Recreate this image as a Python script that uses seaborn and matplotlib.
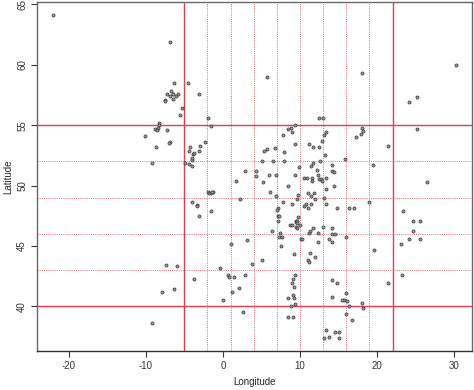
import matplotlib
matplotlib.use("Agg")
import matplotlib.pyplot as plt
import seaborn as sns
import pandas as pd

# station coordinates
lon = [-22.0, -6.9, -6.3, -4.5, -3.1, -7.3, -6.7, -5.8, -6.9, -6.5, -6.1, -6.5, -7.5, -7.5,
       -5.3, -5.6, -1.9, -1.6, -8.3, -8.3, -8.4, -8.8, -8.6, -7.3, -10.1, -8.7, -6.9, -7.0, -9.2,
       -4.9, -4.4, -4.0, -4.0, -4.0, -3.9, -3.8, -4.4, -4.3, -3.1, -3.0, -2.3,
       1.7, -1.9, -1.8, -1.6, -1.3, -1.4, -4.0, -3.4, -3.4, -3.1, -1.6, 1.0,
       -7.4, -6.0, -3.8, -0.4, 0.7, 0.8, 1.5, -7.9, -6.3, 1.2, 0.0, 2.1, -9.2,
       2.8, 3.1, 3.8, 5.1, 2.6, 2.2, 2.8, 4.3, 4.3,
       5.7, 18.0, 30.2, 24.1, 25.1, 25.1, 12.4, 13.0, 9.3, 8.8, 8.4, 8.9, 7.8, 13.3, 13.1,
       12.8, 12.4, 11.1, 11.7, 9.3, 6.7, 5.7, 5.3, 7.9, 13.2, 18.0, 18.1, 17.9, 17.2, 21.4,
       15.8, 19.4, 26.4,
       5.1, 6.5, 7.9, 12.6, 11.7, 14.2, 11.4, 9.8, 12.2, 14.2, 14.4, 6.0, 6.9, 9.3, 12.3,
       10.5, 10.9, 11.5, 11.5, 12.4, 12.7, 12.8, 13.3, 5.2, 8.4, 14.4, 13.3, 6.1, 11.8, 11.0,
       9.7, 6.9, 11.4, 9.6, 11.9,
       7.8, 8.9, 10.8, 11.4, 10.5, 11.0, 13.1, 13.3, 7.1, 7.0, 14.8, 16.3, 17.0, 19.0, 23.4,
       7.1, 7.3, 7.1, 9.5, 9.5, 9.6, 9.7, 9.6, 8.7, 8.9, 9.5, 9.6, 10.0, 6.3, 7.4, 7.3, 7.6,
       10.1, 10.2, 11.1, 11.3, 11.7, 12.3, 13.0, 14.2, 14.2, 14.5, 13.7, 14.1, 12.3, 15.9,
       7.5, 9.2, 11.3, 11.9, 11.0, 11.1, 19.6, 23.1, 24.1, 24.7, 24.6, 25.6, 25.6, 23.2, 21.4,
       9.3, 9.1, 8.9, 9.2, 8.5, 9.1, 9.2, 9.3, 8.8, 8.4, 9.1, 14.2, 14.8, 14.2, 15.9, 15.7,
       16.1, 15.4, 16.3, 15.9, 16.7, 18.0, 18.1, 13.3, 13.1, 13.7, 14.5, 15.0, 15.0]
lat = [64.1, 61.9, 58.5, 58.5, 57.6, 57.6, 57.8, 57.6, 57.4, 57.2, 57.4, 57.6, 57.1, 57.0,
       56.4, 55.8, 55.6, 54.9, 55.2, 55.0, 54.8, 54.7, 54.6, 54.6, 54.1, 53.2, 53.6, 53.5, 51.9,
       51.9, 51.8, 51.6, 52.1, 52.3, 52.6, 52.7, 52.9, 53.2, 52.9, 53.3, 53.6,
       50.4, 49.5, 49.4, 49.4, 49.5, 49.5, 48.6, 48.4, 48.3, 47.5, 47.9, 45.2,
       43.4, 43.3, 42.3, 43.2, 42.6, 42.4, 42.4, 41.2, 41.4, 41.2, 40.5, 41.5, 38.6,
       42.6, 45.5, 43.5, 43.8, 39.5, 48.9, 51.2, 51.2, 50.8,
       59.0, 59.3, 60.0, 56.9, 57.3, 54.7, 55.6, 55.6, 55.0, 54.8, 54.7, 54.4, 54.2, 54.4, 54.2,
       53.7, 53.2, 53.4, 53.2, 53.4, 53.1, 53.0, 52.9, 52.8, 52.5, 54.8, 54.5, 54.3, 54.0, 53.3,
       52.2, 51.7, 50.3,
       52.0, 52.0, 52.0, 52.0, 51.9, 51.7, 51.6, 51.5, 51.3, 51.2, 51.1, 50.9, 50.9, 50.9, 50.9,
       50.6, 50.6, 50.6, 50.4, 50.5, 50.5, 50.4, 50.6, 50.3, 50.0, 50.0, 49.7, 49.5, 49.4, 49.4,
       49.2, 49.1, 49.1, 48.9, 48.9,
       48.6, 48.5, 48.5, 48.5, 48.3, 48.1, 49.0, 48.5, 48.1, 48.0, 48.1, 48.1, 48.1, 48.6, 47.9,
       47.5, 47.5, 47.1, 47.1, 47.0, 47.05, 47.4, 46.9, 46.7, 46.7, 46.6, 46.5, 46.7, 46.2, 46.1, 45.7, 45.7,
       45.6, 45.6, 46.1, 46.2, 46.5, 46.1, 46.6, 46.5, 46.0, 46.0, 45.6, 45.3, 45.3, 45.7,
       45.0, 44.3, 44.4, 44.1, 43.8, 43.7, 44.7, 45.2, 45.6, 46.2, 47.1, 47.1, 45.6, 42.6, 41.9,
       42.6, 42.3, 41.9, 41.6, 40.7, 40.9, 40.7, 40.2, 40.0, 39.1, 39.1, 42.2, 41.9, 40.8, 41.1, 40.5,
       40.4, 40.5, 40.0, 39.4, 38.9, 40.3, 39.9, 38.0, 37.4, 37.5, 37.9, 37.9, 37.4]

# grid cell boundaries
solid_lon = [-5, 22]
dotted_lon = [-2, 1, 4, 7, 10, 13, 16, 19]
solid_lat = [40, 55]
dotted_lat = [43, 46, 49, 52]

x_ticks = [-20, -10, 0, 10, 20, 30]
y_ticks = [40, 45, 50, 55, 60, 65]

df = pd.DataFrame({"Longitude": lon, "Latitude": lat})

sns.set_style("ticks")
plt.rcParams["font.family"] = ["Liberation Sans", "DejaVu Sans"]
plt.rcParams["axes.unicode_minus"] = False

fig = plt.figure(figsize=(4.74, 3.9), dpi=100)
ax = fig.add_axes([0.078, 0.1, 0.918, 0.895])

for v in solid_lon:
    ax.axvline(v, color="#e0404c", lw=1.0, zorder=1)
for v in dotted_lon:
    ax.axvline(v, color="#ea6a74", lw=0.7, ls=(0, (1, 1.2)), zorder=1)
for v in solid_lat:
    ax.axhline(v, color="#e0404c", lw=1.0, zorder=1)
for v in dotted_lat:
    ax.axhline(v, color="#ea6a74", lw=0.7, ls=(0, (1, 1.2)), zorder=1)

sns.scatterplot(data=df, x="Longitude", y="Latitude", ax=ax, marker="o", s=5,
                facecolor="#9a9a9a", edgecolor="#333333", linewidth=0.5, zorder=3)

ax.set_xlim(-24.1, 32.3)
ax.set_ylim(36.3, 65.2)
ax.set_xticks(x_ticks)
ax.set_yticks(y_ticks)
ax.tick_params(labelsize=7, length=4, width=0.8, colors="#333333", pad=3)
for lab in ax.get_yticklabels():
    lab.set_rotation(90)
    lab.set_va("center")
ax.set_xlabel("Longitude", fontsize=7)
ax.set_ylabel("Latitude", fontsize=7, labelpad=3)
ax.xaxis.set_label_coords(0.5, -0.075)
for sp in ax.spines.values():
    sp.set_color("#666666")
    sp.set_linewidth(1.0)
ax.spines["bottom"].set_color("#333333")

fig.savefig("out.png", dpi=100)
